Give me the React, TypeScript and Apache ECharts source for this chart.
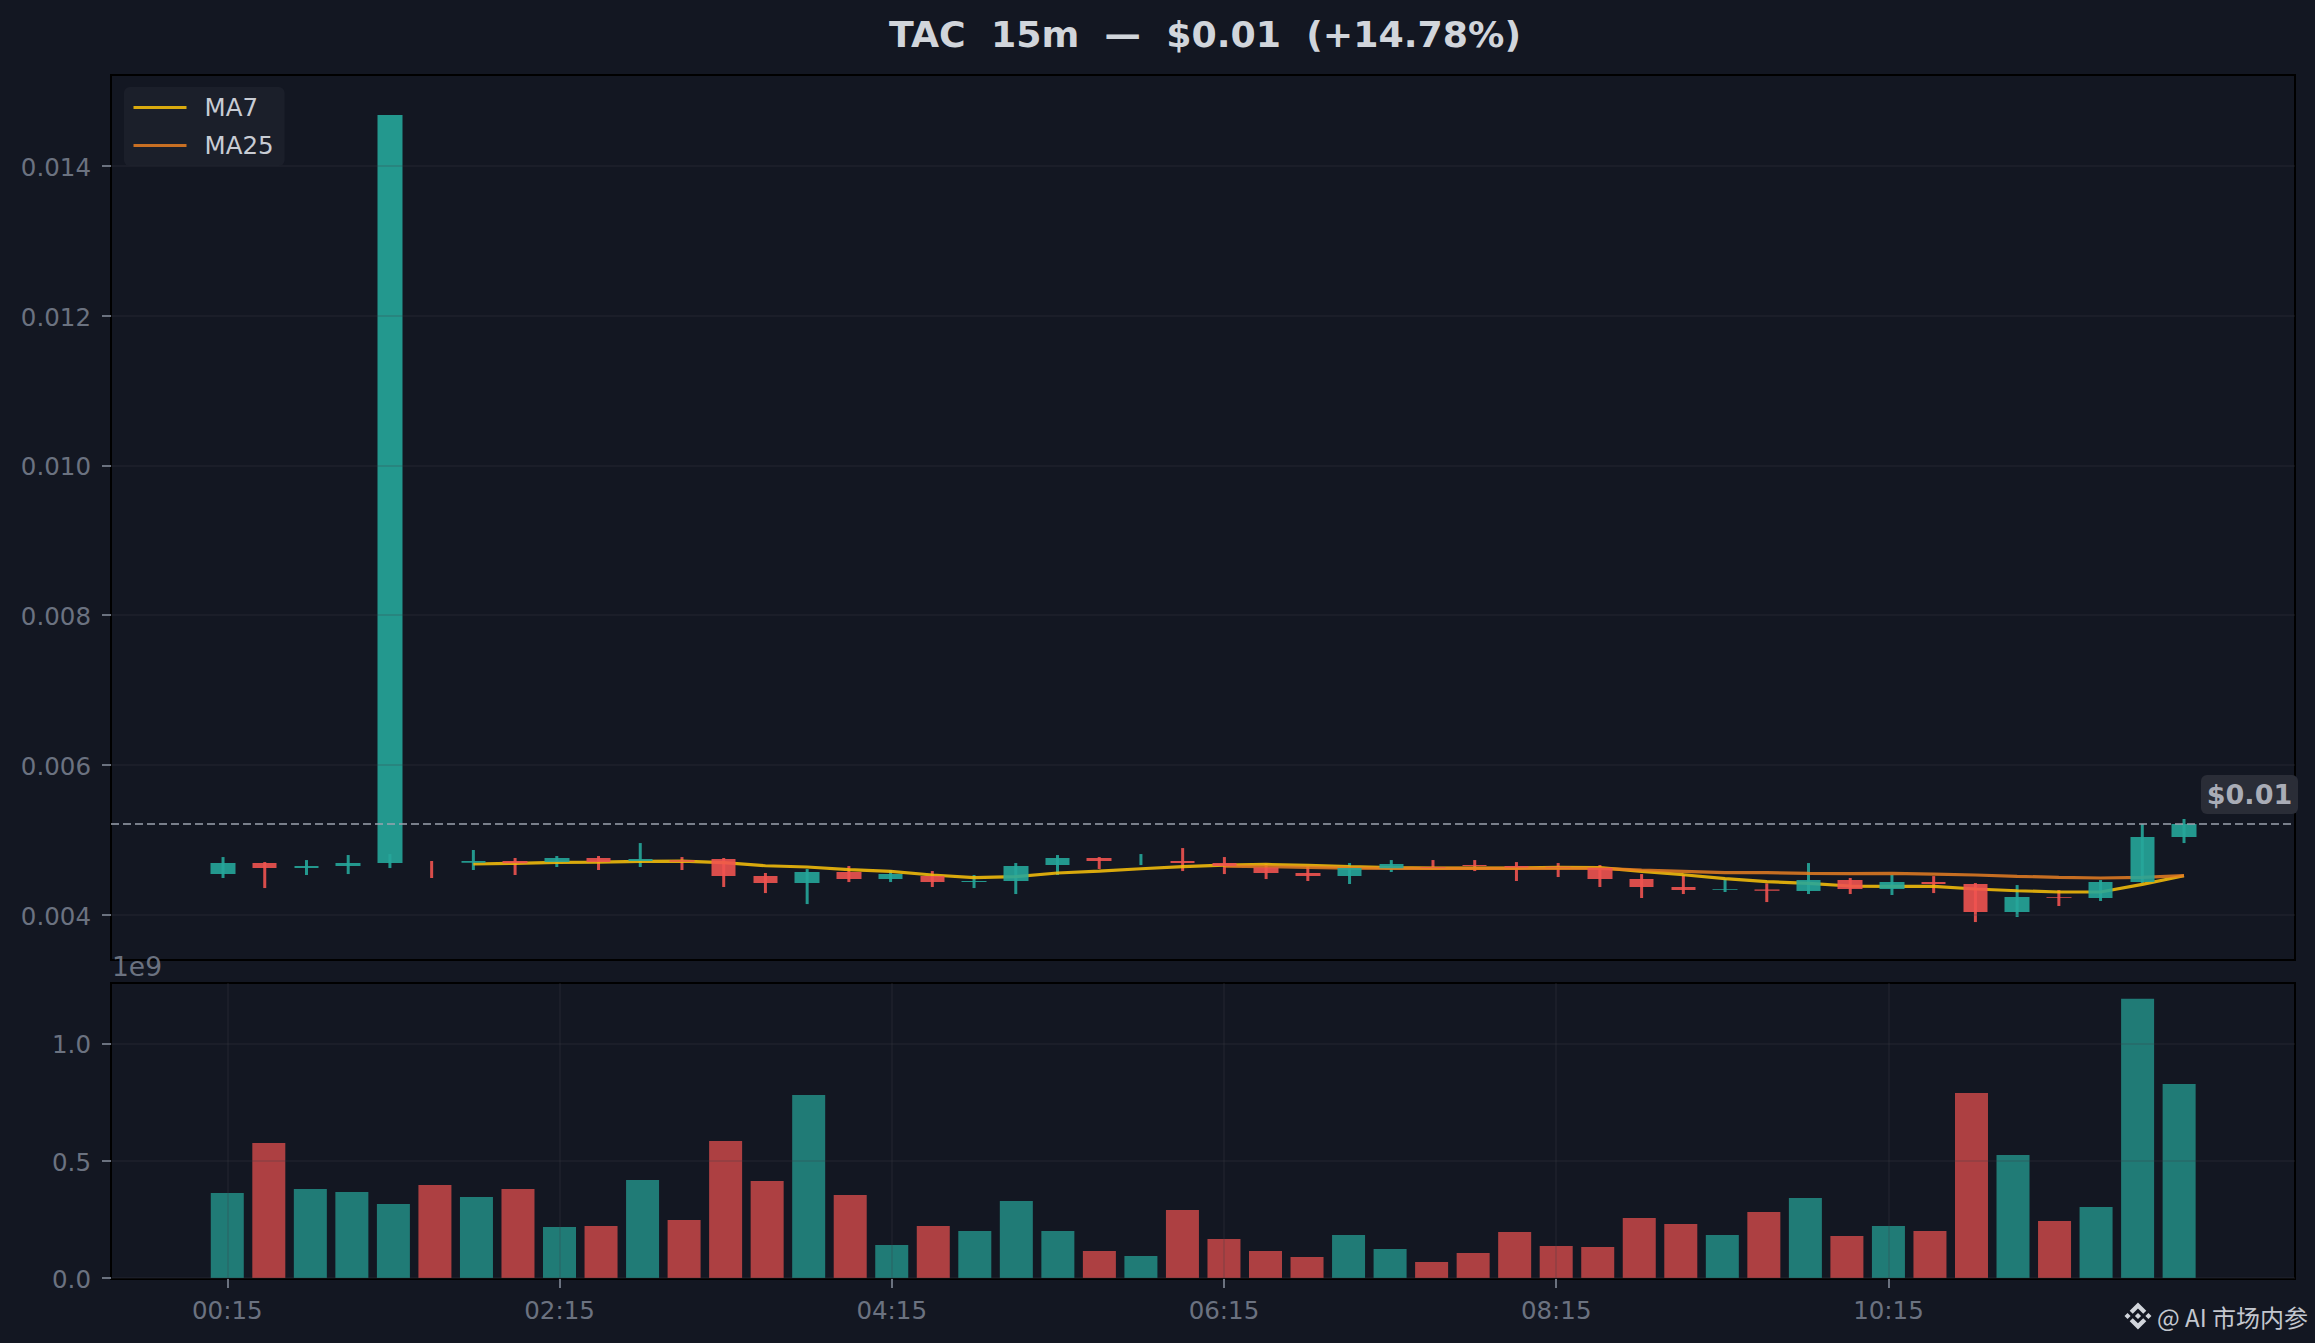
import React, { useEffect, useRef } from "react";
import * as echarts from "echarts";

const titleText = "TAC  15m  —  $0.01  (+14.78%)";
const times = ["00:15","00:30","00:45","01:00","01:15","01:30","01:45","02:00","02:15","02:30","02:45","03:00","03:15","03:30","03:45","04:00","04:15","04:30","04:45","05:00","05:15","05:30","05:45","06:00","06:15","06:30","06:45","07:00","07:15","07:30","07:45","08:00","08:15","08:30","08:45","09:00","09:15","09:30","09:45","10:00","10:15","10:30","10:45","11:00","11:15","11:30","11:45","12:00"];
const opens = [0.004543,0.00469,0.004623,0.00465,0.00469,0.00465,0.004695,0.004717,0.004703,0.004757,0.004717,0.004726,0.004743,0.004516,0.004423,0.00457,0.004476,0.004516,0.004436,0.00445,0.004663,0.004757,0.00473,0.004717,0.00469,0.004632,0.004557,0.004516,0.004619,0.004637,0.004663,0.00465,0.004641,0.004623,0.004476,0.00437,0.004334,0.004338,0.004316,0.004463,0.004343,0.004436,0.00441,0.004036,0.004236,0.004223,0.004436,0.005037];
const closes = [0.00469,0.004623,0.00465,0.00469,0.014681,0.004649,0.004717,0.004686,0.004757,0.004703,0.004743,0.004708,0.004516,0.004423,0.00457,0.004476,0.004543,0.004436,0.00445,0.00465,0.004757,0.004717,0.004731,0.00469,0.00465,0.004557,0.004516,0.004623,0.004677,0.004628,0.00465,0.004632,0.004632,0.004476,0.00437,0.004329,0.004343,0.004321,0.004463,0.004343,0.004436,0.00441,0.004036,0.004236,0.004227,0.004436,0.005037,0.005211];
const lows = [0.00449,0.004356,0.00453,0.004543,0.004623,0.00449,0.004597,0.00453,0.004637,0.004597,0.004637,0.004597,0.00437,0.004289,0.004142,0.004436,0.004436,0.00437,0.004356,0.004276,0.00453,0.00461,0.004663,0.004583,0.004543,0.004476,0.00445,0.00441,0.00457,0.004623,0.004583,0.00445,0.004503,0.00437,0.004223,0.004276,0.004303,0.004169,0.004276,0.004276,0.004263,0.004289,0.003902,0.003969,0.004116,0.004183,0.004423,0.004957];
const highs = [0.00477,0.004703,0.00473,0.004797,0.00481,0.004717,0.004864,0.004757,0.004784,0.004784,0.004957,0.00477,0.004757,0.004557,0.00461,0.00465,0.004597,0.004583,0.00453,0.00469,0.004797,0.00477,0.00481,0.00489,0.00477,0.004677,0.00465,0.00469,0.00473,0.00473,0.00473,0.004703,0.00469,0.004663,0.004543,0.00453,0.004476,0.004419,0.00469,0.00449,0.00453,0.004516,0.004423,0.004396,0.004329,0.004463,0.005211,0.005278];
const ma7 = [null,null,null,null,null,null,0.004677,0.004686,0.004699,0.004703,0.004712,0.004715,0.004695,0.004654,0.004637,0.004601,0.004579,0.00453,0.004494,0.004508,0.004557,0.004583,0.004614,0.004641,0.004663,0.004672,0.004659,0.004641,0.004628,0.004623,0.004623,0.004623,0.004632,0.004628,0.004579,0.004534,0.004481,0.004441,0.004419,0.004383,0.004378,0.004378,0.004343,0.00432,0.004303,0.004303,0.004405,0.004521];
const ma25 = [null,null,null,null,null,null,null,null,null,null,null,null,null,null,null,null,null,null,null,null,null,null,null,null,0.00465,0.004641,0.004632,0.004623,0.004619,0.004619,0.004619,0.004619,0.004619,0.004619,0.004597,0.004579,0.004561,0.004561,0.004552,0.004548,0.004552,0.004543,0.00453,0.004512,0.004499,0.00449,0.004499,0.004521];
const volumes = [0.362,0.575,0.379,0.366,0.315,0.396,0.345,0.379,0.217,0.222,0.418,0.247,0.584,0.413,0.78,0.354,0.141,0.222,0.2,0.328,0.2,0.115,0.094,0.29,0.166,0.115,0.089,0.183,0.124,0.068,0.107,0.196,0.136,0.132,0.256,0.23,0.183,0.281,0.341,0.179,0.222,0.2,0.788,0.524,0.243,0.303,1.19,0.827].map((v) => v * 1e9);
const lastPrice = 0.005215;
const priceTicks = [0.004, 0.006, 0.008, 0.01, 0.012, 0.014];
const volumeTicks = [0, 0.5e9, 1e9];
const timeTickIndexes = [0, 8, 16, 24, 32, 40];

const UP = "#26a69a";
const DOWN = "#ef5350";
const FONT = "DejaVu Sans";
const GRAY = "#6b7280";
const GRID = "rgba(60,60,70,0.2)";
const BG = "#131722";
const LOGO = "M38.73 53.2l24.59-24.58 24.6 24.6 14.3-14.31L63.32 0 24.42 38.9z M0 63.31l14.3-14.31 14.31 14.31-14.31 14.3z M38.73 73.41l24.59 24.59 24.6-24.6 14.31 14.29-.01.01-38.9 38.91-38.91-38.88-.02-.02z M97.99 63.31l14.3-14.31 14.32 14.3-14.31 14.32z M77.83 63.3L63.32 48.78 52.59 59.51l-1.24 1.23-2.54 2.54 14.51 14.5 14.51-14.47z";

const tickLabelRich = { t: { color: GRAY, fontFamily: FONT, fontSize: 24.5, padding: [3, 0, 0, 0] } };

export default function App() {
  const ref = useRef<HTMLDivElement>(null);
  useEffect(() => {
    document.body.style.margin = "0";
    document.body.style.background = BG;
    echarts.graphic.registerShape("logo", echarts.graphic.extendPath(LOGO, {}));
    const chart = echarts.init(ref.current!, null, { renderer: "svg" });
    const isUp = (i: number) => closes[i] >= opens[i];
    const hiddenLine = { show: false, onZero: false };
    chart.setOption({
      animation: false,
      backgroundColor: BG,
      textStyle: { fontFamily: FONT },
      title: {
        text: titleText,
        left: 1200,
        top: 11,
        textAlign: "center",
        textStyle: { color: "#d1d5db", fontFamily: FONT, fontWeight: "bold", fontSize: 36.3 },
      },
      legend: {
        data: ["MA7", "MA25"],
        orient: "vertical",
        left: 124,
        top: 87,
        padding: [8, 11, 8, 8],
        itemWidth: 53,
        itemHeight: 25,
        itemGap: 13,
        borderRadius: 6,
        backgroundColor: "rgba(30,34,45,0.8)",
        itemStyle: { opacity: 0 },
        lineStyle: { width: 3 },
        formatter: "{a|{name}}",
        textStyle: {
          color: "#c8ccd4",
          fontFamily: FONT,
          fontSize: 24.5,
          rich: { a: { color: "#c8ccd4", fontFamily: FONT, fontSize: 24.5, padding: [0, 0, 0, 13] } },
        },
      },
      grid: [
        { left: 111, right: 20, top: 75, height: 885, show: true, borderColor: "#000", borderWidth: 2, backgroundColor: "transparent" },
        { left: 111, right: 20, top: 983, height: 296, show: true, borderColor: "#000", borderWidth: 2, backgroundColor: "transparent" },
      ],
      xAxis: [
        { type: "value", min: -2.685, max: 49.66, gridIndex: 0, axisLine: hiddenLine, axisTick: { show: false }, axisLabel: { show: false }, splitLine: { show: false } },
        {
          type: "value",
          min: -2.80,
          max: 49.79,
          gridIndex: 1,
          z: 3,
          axisLine: hiddenLine,
          axisTick: { show: true, length: 9, lineStyle: { color: GRAY, width: 2 }, customValues: timeTickIndexes },
          axisLabel: {
            show: true,
            customValues: timeTickIndexes,
            color: GRAY,
            fontFamily: FONT,
            fontSize: 24.5,
            margin: 19,
            formatter: (v: number) => times[v],
          },
          splitLine: { show: true, lineStyle: { color: GRID, width: 2 } },
        },
      ],
      yAxis: [
        {
          type: "value",
          gridIndex: 0,
          z: 3,
          min: 0.003395,
          max: 0.015215,
          axisLine: hiddenLine,
          axisTick: { show: true, length: 9, lineStyle: { color: GRAY, width: 2 }, customValues: priceTicks },
          axisLabel: {
            customValues: priceTicks,
            color: GRAY,
            fontFamily: FONT,
            fontSize: 24.5,
            margin: 20,
            rich: tickLabelRich,
            formatter: (v: number) => `{t|${v.toFixed(3)}}`,
          },
          splitLine: { show: true, lineStyle: { color: GRID, width: 2 } },
        },
        {
          type: "value",
          gridIndex: 1,
          z: 3,
          min: -0.0043e9,
          max: 1.2571e9,
          axisLine: hiddenLine,
          axisTick: { show: true, length: 9, lineStyle: { color: GRAY, width: 2 }, customValues: volumeTicks },
          axisLabel: {
            customValues: volumeTicks,
            color: GRAY,
            fontFamily: FONT,
            fontSize: 24.5,
            margin: 20,
            rich: tickLabelRich,
            formatter: (v: number) => `{t|${(v / 1e9).toFixed(1)}}`,
          },
          splitLine: { show: true, lineStyle: { color: GRID, width: 2 } },
        },
      ],
      series: [
        {
          name: "Wick",
          type: "custom",
          xAxisIndex: 0,
          yAxisIndex: 0,
          z: 2,
          silent: true,
          data: times.map((_, i) => [i, lows[i], highs[i]]),
          encode: { x: 0, y: [1, 2] },
          renderItem: (params: any, api: any) => {
            const i = api.value(0);
            const a = api.coord([i, api.value(1)]);
            const b = api.coord([i, api.value(2)]);
            return {
              type: "rect",
              shape: { x: a[0] - 1.5, y: b[1], width: 3, height: a[1] - b[1] },
              style: { fill: isUp(i) ? UP : DOWN, opacity: 0.9 },
            };
          },
        },
        {
          name: "TAC",
          type: "candlestick",
          xAxisIndex: 0,
          yAxisIndex: 0,
          z: 2,
          barWidth: 25,
          data: times.map((_, i) => [i, opens[i], closes[i], lows[i], highs[i]]),
          encode: { x: 0, y: [1, 2, 3, 4] },
          itemStyle: { color: UP, color0: DOWN, borderColor: UP, borderColor0: DOWN, borderWidth: 0, opacity: 0.9 },
          markLine: {
            silent: true,
            symbol: "none",
            precision: 6,
            label: { show: false },
            lineStyle: { color: "#9ca3af", type: [8, 4], width: 2, opacity: 0.75 },
            data: [{ yAxis: lastPrice }],
          },
        },
        {
          name: "Volume",
          type: "bar",
          xAxisIndex: 1,
          yAxisIndex: 1,
          z: 2,
          barWidth: 33,
          data: volumes.map((v, i) => ({
            value: [i, v],
            itemStyle: { color: isUp(i) ? UP : DOWN, opacity: 0.7 },
          })),
        },
        {
          name: "MA7",
          type: "line",
          xAxisIndex: 0,
          yAxisIndex: 0,
          z: 2,
          symbol: "none",
          lineStyle: { color: "#f0b90b", width: 3.2, opacity: 0.9 },
          itemStyle: { color: "#f0b90b" },
          data: ma7.map((v, i) => [i, v]),
        },
        {
          name: "MA25",
          type: "line",
          xAxisIndex: 0,
          yAxisIndex: 0,
          z: 2,
          symbol: "none",
          lineStyle: { color: "#e67e22", width: 3.2, opacity: 0.85 },
          itemStyle: { color: "#e67e22" },
          data: ma25.map((v, i) => [i, v]),
        },
      ],
      graphic: [
        { type: "text", x: 112, y: 966.5, style: { text: "1e9", fill: GRAY, font: `26.5px '${FONT}'`, verticalAlign: "middle" } },
        { type: "rect", x: 2201, y: 775, shape: { width: 97, height: 39, r: 6 }, style: { fill: "#2a2d37" }, z: 10 },
        { type: "text", x: 2249.5, y: 794.5, z: 11, style: { text: "$0.01", fill: "#a9acb6", font: `bold 27px '${FONT}'`, align: "center", verticalAlign: "middle" } },
        { type: "logo", x: 2124.5, y: 1302.5, scaleX: 0.2133, scaleY: 0.2133, z: 11, style: { fill: "#d1d5db" } },
        { type: "text", x: 2157, y: 1316, z: 11, style: { text: "@ AI 市场内参", fill: "#c3c7cf", font: "24px 'Noto Sans CJK SC'", verticalAlign: "middle" } },
      ],
    });
    return () => chart.dispose();
  }, []);
  return <div ref={ref} style={{ position: "fixed", left: 0, top: 0, width: 2315, height: 1343 }} />;
}
